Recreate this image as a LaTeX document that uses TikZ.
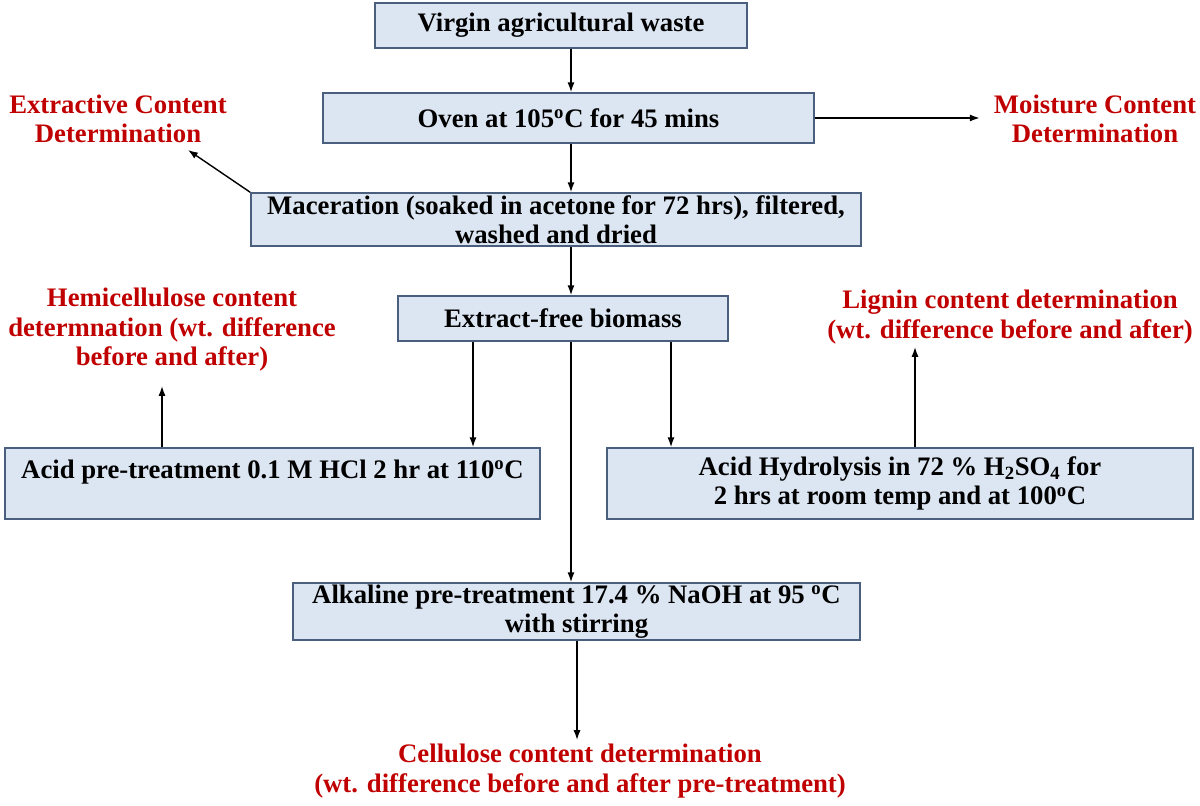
\documentclass[tikz,border=0pt]{standalone}
\usepackage{fontspec}
\setmainfont{Liberation Serif}
\usetikzlibrary{arrows.meta,positioning}
\definecolor{cFill}{HTML}{DCE6F2}
\definecolor{cEdge}{HTML}{4A5F7E}
\definecolor{cRed}{HTML}{C00000}
\tikzset{
  stage/.style = {rectangle, draw=cEdge, fill=cFill, line width=1.1pt, align=center,
                  inner sep=0pt, font=\fontsize{19}{21}\selectfont\bfseries},
  res/.style   = {align=center, text=cRed, inner sep=0pt,
                  font=\fontsize{19}{21}\selectfont\bfseries},
  fl/.style    = {-{Latex[length=7pt,width=5pt]}, draw=black, line width=1pt},
}

\begin{document}
\begin{tikzpicture}[x=0.025cm, y=-0.025cm]
  \useasboundingbox (0,0) rectangle (1200,806);

  % main line
  \node[stage, minimum width=9.3cm, minimum height=1.125cm] (waste) at (561,25.5) {Virgin agricultural waste};
  \node[stage, minimum width=12.275cm, minimum height=1.25cm] (oven) at (568.5,118) {Oven at 105\textsuperscript{o}C for 45 mins};
  \node[stage, minimum width=15.25cm, minimum height=1.325cm] (macer) at (556,219.5) {Maceration (soaked in acetone for 72 hrs), filtered,\\ washed and dried};
  \node[stage, minimum width=8.25cm, minimum height=1.125cm] (free) at (563,318.5) {Extract-free biomass};
  \node[stage, minimum width=13.375cm, minimum height=1.775cm] (acid) at (272.5,483.5) {Acid pre-treatment 0.1 M HCl 2 hr at 110\textsuperscript{o}C\\ \mbox{}};
  \node[stage, minimum width=14.65cm, minimum height=1.775cm] (hydro) at (900,483.5) {Acid Hydrolysis in 72 \% H\textsubscript{2}SO\textsubscript{4} for\\ 2 hrs at room temp and at 100\textsuperscript{o}C};
  \node[stage, minimum width=14.175cm, minimum height=1.425cm] (alkali) at (576.5,611.5) {Alkaline pre-treatment 17.4 \% NaOH at 95 \textsuperscript{o}C\\ with stirring};

  % results
  \node[res] (extract) at (118,119) {Extractive Content\\ Determination};
  \node[res] (moist) at (1095,119) {Moisture Content\\ Determination};
  \node[res] (hemi) at (172,330) {Hemicellulose content\\ determnation (wt. difference\\ before and after)};
  \node[res] (lignin) at (1010,317) {Lignin content determination\\ (wt. difference before and after)};
  \node[res] (cellu) at (580,771) {Cellulose content determination\\ (wt. difference before and after pre-treatment)};

  \coordinate (spine) at (571,0);
  \coordinate (lft) at (473,0);
  \coordinate (rgt) at (671,0);
  \coordinate (xtip) at (188,150);
  \coordinate (hup) at (162,386);
  \coordinate (lup) at (915,347);
  \coordinate (cdown) at (577,740);

  \draw[fl] (waste.south -| spine) -- (oven.north -| spine);
  \draw[fl] (oven.south -| spine) -- (macer.north -| spine);
  \draw[fl] (macer.south -| spine) -- (free.north -| spine);
  \draw[fl] (free.south -| spine) -- (alkali.north -| spine);
  \draw[fl] (free.south -| lft) -- (acid.north -| lft);
  \draw[fl] (free.south -| rgt) -- (hydro.north -| rgt);
  \draw[fl] (oven.east) -- ([xshift=-0.35cm]moist.west |- oven.east);
  \draw[fl] (macer.north west) -- (xtip);
  \draw[fl] (acid.north -| hup) -- (hup);
  \draw[fl] (hydro.north -| lup) -- (lup);
  \draw[fl] (alkali.south -| cdown) -- (cdown);
\end{tikzpicture}
\end{document}
